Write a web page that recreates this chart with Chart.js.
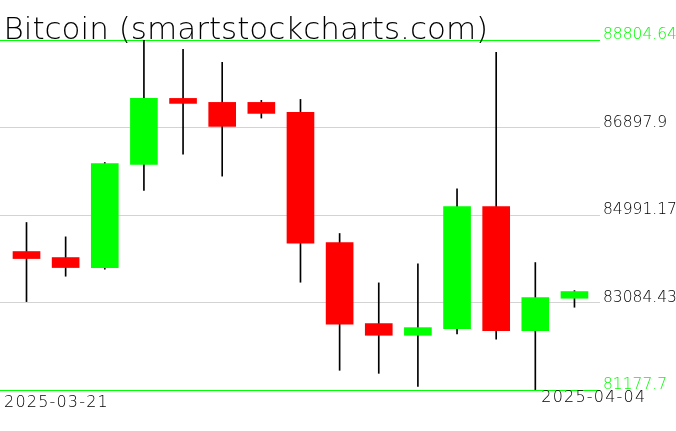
<!DOCTYPE html>
<html>
<head>
<meta charset="utf-8">
<script src="https://cdn.jsdelivr.net/npm/chart.js@4.4.1/dist/chart.umd.min.js"></script>
<style>
html,body{margin:0;padding:0;background:#fff;}
#wrap{width:676px;height:431px;position:relative;}
</style>
</head>
<body>
<div id="wrap"><canvas id="c"></canvas></div>
<script>
const titleText = 'Bitcoin (smartstockcharts.com)';
const dates = ['2025-03-21','2025-03-22','2025-03-23','2025-03-24','2025-03-25','2025-03-26','2025-03-27','2025-03-28','2025-03-29','2025-03-30','2025-03-31','2025-04-01','2025-04-02','2025-04-03','2025-04-04'];
const openV  = [84195, 84064, 83846, 86093, 87532, 87445, 87445, 87227, 84391, 82625, 82370, 82515, 85177, 82472, 83177];
const highV  = [84828, 84515, 86136, 88804.64, 88601, 88318, 87489, 87510, 84588, 83512, 83926, 85562, 88536, 83955, 83344];
const lowV   = [83104, 83657, 83810, 85526, 86318, 85838, 87103, 83526, 81607, 81541, 81258, 82399, 82283, 81177.7, 82981];
const closeV = [84042, 83846, 86114, 87532, 87423, 86922, 87205, 84377, 82610, 82370, 82537, 85177, 82472, 83192, 83323];
const tickValues = [88804.64, 86897.905, 84991.17, 83084.435, 81177.7];
const tickLabels = ['88804.64', '86897.9', '84991.17', '83084.43', '81177.7'];
const dateLabels = [dates[0], dates[dates.length - 1]];

const UP = '#00ff00', DOWN = '#ff0000', EDGE = '#00ff00', GRID = '#d3d3d3';
const yMin = Math.min(...lowV), yMax = Math.max(...highV);

const bodies = dates.map((d, i) => ({x: i, y: [openV[i], closeV[i]]}));
const wicks = dates.map((d, i) => ({x: i, y: [lowV[i], highV[i]]}));
const bodyColors = dates.map((d, i) => closeV[i] >= openV[i] ? UP : DOWN);

const textPlugin = {
  id: 'texts',
  afterDraw(chart) {
    const ctx = chart.ctx;
    const ca = chart.chartArea;
    const xs = chart.scales.x;
    ctx.save();
    ctx.fillStyle = '#000';
    ctx.textBaseline = 'alphabetic';
    ctx.textAlign = 'left';
    ctx.font = '200 31px "DejaVu Sans"';
    ctx.fillText(titleText, 3.5, 38.5);
    ctx.font = '200 16px "DejaVu Sans"';
    try { ctx.letterSpacing = '1.2px'; } catch (e) {}
    ctx.fillText(dateLabels[0], ca.left + 4, ca.bottom + 17);
    ctx.fillText(dateLabels[1], xs.getPixelForValue(dates.length - 2) + 6, ca.bottom + 12);
    ctx.restore();
  }
};

new Chart(document.getElementById('c'), {
  type: 'bar',
  data: {
    datasets: [
      {
        label: 'body',
        data: bodies,
        backgroundColor: bodyColors,
        borderWidth: 0,
        barThickness: 27,
        grouped: false,
        order: 0
      },
      {
        label: 'wick',
        data: wicks,
        backgroundColor: '#000',
        borderWidth: 0,
        barThickness: 1,
        grouped: false,
        order: 1
      }
    ]
  },
  options: {
    responsive: true,
    maintainAspectRatio: false,
    animation: false,
    layout: {padding: {top: 40, bottom: 41, left: 0, right: 0}},
    plugins: {legend: {display: false}, tooltip: {enabled: false}, title: {display: false}},
    scales: {
      x: {
        type: 'linear',
        display: false,
        offset: false,
        grid: {offset: false},
        min: -26.5 / 39.14,
        max: (600 - 26.5) / 39.14
      },
      y: {
        position: 'right',
        min: yMin,
        max: yMax,
        z: 1,
        afterBuildTicks(scale) { scale.ticks = tickValues.map(v => ({value: v})); },
        afterFit(scale) { scale.width = 76; },
        border: {display: false},
        grid: {
          drawTicks: false,
          tickLength: 0,
          lineWidth: 1,
          color: (c) => (c.index === 0 || c.index === tickValues.length - 1) ? EDGE : GRID
        },
        ticks: {
          padding: 3,
          labelOffset: -5,
          crossAlign: 'near',
          font: {family: 'DejaVu Sans', size: 15.5, weight: 200},
          color: (c) => (c.index === 0 || c.index === tickValues.length - 1) ? EDGE : '#000',
          callback: (v, i) => tickLabels[i]
        }
      }
    }
  },
  plugins: [textPlugin]
});
</script>
</body>
</html>
